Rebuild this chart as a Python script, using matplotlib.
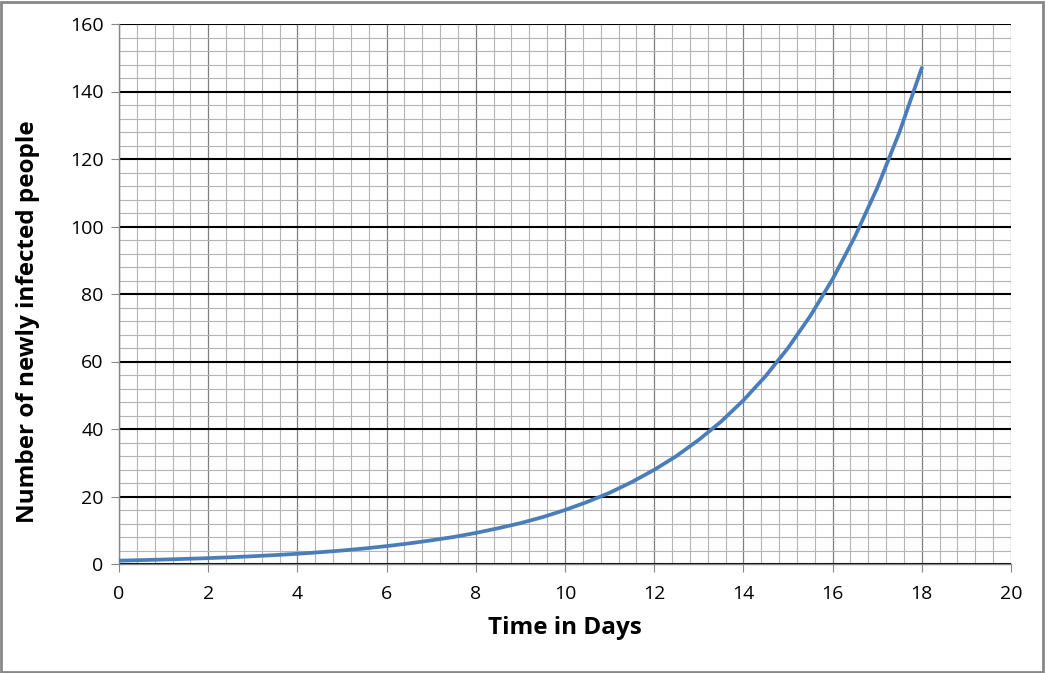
import matplotlib.pyplot as plt
import numpy as np
from matplotlib.patches import Rectangle

# values, every half day
days = [0, 0.5, 1, 1.5, 2, 2.5, 3, 3.5, 4, 4.5, 5, 5.5, 6, 6.5, 7, 7.5, 8, 8.5, 9,
        9.5, 10, 10.5, 11, 11.5, 12, 12.5, 13, 13.5, 14, 14.5, 15, 15.5, 16, 16.5,
        17, 17.5, 18]
infected = [1.0, 1.15, 1.32, 1.52, 1.74, 2.0, 2.3, 2.64, 3.03, 3.48, 4.0, 4.6, 5.3,
            6.1, 7.0, 8.0, 9.2, 10.6, 12.1, 13.9, 16.0, 18.4, 21.1, 24.3, 27.9, 32.0,
            36.8, 42.2, 48.5, 55.7, 64.0, 73.5, 84.4, 97.0, 111.4, 128.0, 147.0]

x_ticks = [0, 2, 4, 6, 8, 10, 12, 14, 16, 18, 20]
y_ticks = [0, 20, 40, 60, 80, 100, 120, 140, 160]

plt.rcParams['font.family'] = ['Open Sans', 'DejaVu Sans']

fig = plt.figure(figsize=(10.45, 6.73), dpi=100)
ax = fig.add_axes([119 / 1045, 1 - 564 / 673, (1011 - 119) / 1045, (564 - 24) / 673])

ax.set_xlim(0, 20)
ax.set_ylim(0, 160)
ax.set_xticks(x_ticks)
ax.set_yticks(y_ticks)
ax.set_xticks(np.arange(0, 20.01, 0.4), minor=True)
ax.set_yticks(np.arange(0, 160.01, 4), minor=True)

# gridlines
ax.grid(True, which='minor', axis='both', color='#b4b4b4', linewidth=0.8)
ax.grid(True, which='major', axis='x', color='#7f7f7f', linewidth=0.9)
ax.grid(True, which='major', axis='y', color='black', linewidth=1.5)
ax.set_axisbelow(True)

ax.plot(days, infected, color='#4a7ebb', linewidth=2.7, solid_capstyle='round',
        solid_joinstyle='round', zorder=3)

for side in ['top', 'right']:
    ax.spines[side].set_visible(False)
for side in ['left', 'bottom']:
    ax.spines[side].set_color('#868686')
    ax.spines[side].set_linewidth(1.0)

ax.tick_params(axis='both', which='major', direction='out', length=6, color='#868686',
               labelsize=14, pad=5)
ax.tick_params(axis='both', which='minor', length=0)
ax.tick_params(axis='x', pad=9)

ax.set_xlabel('Time in Days', fontsize=17.5, fontweight='bold', va='center')
ax.set_ylabel('Number of newly infected people', fontsize=17.5, fontweight='bold',
              va='center')
ax.xaxis.set_label_coords(0.5, (564 - 628) / 540)
ax.yaxis.set_label_coords((28 - 119) / 892, (564 - 322) / 540)

# outer frame
fig.patches.append(Rectangle((0.001, 0.001), 0.997, 0.996, transform=fig.transFigure,
                             fill=False, edgecolor='#878787', linewidth=2))

plt.savefig('out.png', dpi=100)
plt.close()
